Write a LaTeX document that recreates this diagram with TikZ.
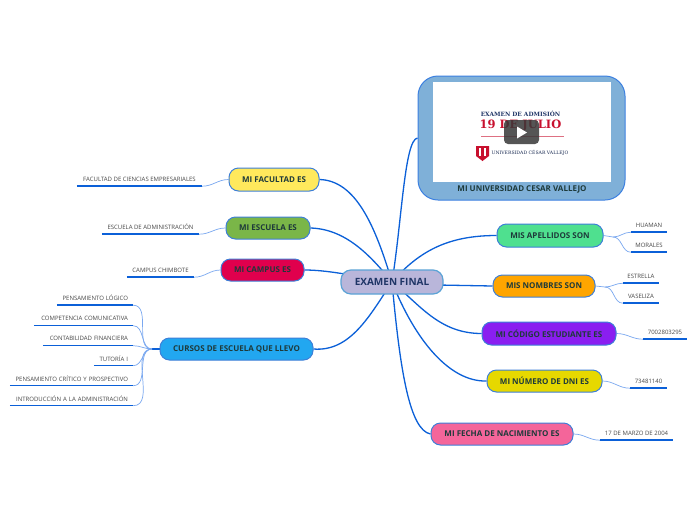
\documentclass[tikz,border=0pt]{standalone}
\usepackage{fontspec}
\setmainfont{Open Sans}
\newfontfamily\serifthumb{DejaVu Serif}
\usetikzlibrary{backgrounds}
\definecolor{mainline}{HTML}{0B60D8}
\definecolor{thinline}{HTML}{7AA8F0}
\definecolor{edgeblue}{HTML}{3D7FD8}
\definecolor{unifill}{HTML}{7FB0D8}
\definecolor{rootfill}{HTML}{B9B6DA}
\definecolor{rootedge}{HTML}{5BA3D6}
\definecolor{cgreen}{HTML}{4FE08F}
\definecolor{corange}{HTML}{FFA500}
\definecolor{cpurple}{HTML}{8A1EF0}
\definecolor{colive}{HTML}{E6D800}
\definecolor{cpink}{HTML}{F4659A}
\definecolor{cyellow}{HTML}{FFE95C}
\definecolor{cleaf}{HTML}{7AB648}
\definecolor{cred}{HTML}{E0004D}
\definecolor{csky}{HTML}{22A7F0}
\definecolor{labeldark}{HTML}{1E3A3A}
\definecolor{navy}{HTML}{1F3566}
\definecolor{brick}{HTML}{C8102E}
\tikzset{
  x=1pt,y=-1pt,
  topic/.style={draw=edgeblue,line width=1pt,rounded corners=9.5pt,inner sep=0pt,
    font=\bfseries\fontsize{8}{9}\selectfont,text=labeldark},
  leaf/.style={inner sep=0pt,minimum height=14pt,font=\fontsize{6}{7}\selectfont,text=black!72},
  branch/.style={draw=mainline,line width=1.3pt},
  twig/.style={draw=thinline,line width=0.7pt},
  under/.style={draw=mainline,line width=1.5pt},
}
\newcommand{\topicnode}[7]{\node[topic,fill=#2,minimum width=#5pt,minimum height=#6pt] (#1) at (#3,#4) {#7};}
\newcommand{\leafnode}[5]{\node[leaf,minimum width=#4pt] (#1) at (#2,#3) {#5}; \draw[under] (#1.south west) -- (#1.south east);}
\begin{document}
\begin{tikzpicture}
\useasboundingbox (0,0) rectangle (696,520);
% video box
\node[draw=mainline!80!white,fill=unifill,line width=1pt,rounded corners=20pt,minimum width=207pt,minimum height=124pt,inner sep=0pt] (uni) at (521.5,138) {};
\node[fill=white,minimum width=178pt,minimum height=100pt,inner sep=0pt] (thumb) at (522,132) {};
\node[inner sep=0pt,font=\serifthumb\bfseries\fontsize{5.85}{7}\selectfont,text=navy] (t1) at (520.5,113.5) {EXAMEN DE ADMISIÓN};
\node[inner sep=0pt,font=\serifthumb\bfseries\fontsize{11.5}{12}\selectfont,text=brick] (t2) at (520.5,125) {19 DE JULIO};
\coordinate (ra) at (481,136.3);
\coordinate (rb) at (564,136.3);
\draw[brick!60,line width=0.5pt] (ra) -- (rb);
\fill[brick] (476,146) -- (489,146) -- (489,156) -- (482.5,161) -- (476,156) -- cycle;
\fill[white] (479,148) rectangle (481,156);
\fill[white] (484,148) rectangle (486,156);
\node[inner sep=0pt,font=\serifthumb\fontsize{4.6}{5}\selectfont,text=navy!80!black] (t3) at (530,153) {UNIVERSIDAD CÉSAR VALLEJO};
\node[fill=black!78,fill opacity=0.85,rounded corners=4pt,minimum width=35pt,minimum height=24pt,inner sep=0pt] (play) at (521.5,132) {};
\fill[white] (517,126.5) -- (527,132.5) -- (517,138.5) -- cycle;
\node[inner sep=0pt,font=\bfseries\fontsize{8}{9}\selectfont,text=labeldark] (unilabel) at (522,189) {MI UNIVERSIDAD CESAR VALLEJO};
% root
\node[draw=rootedge,fill=rootfill,line width=1.2pt,rounded corners=10pt,minimum width=102pt,minimum height=24pt,inner sep=0pt,font=\bfseries\fontsize{10}{11}\selectfont,text=navy] (root) at (392,282) {EXAMEN FINAL};
% topics
\topicnode{facultad}{cyellow}{274}{179.5}{90}{23}{MI FACULTAD ES}
\topicnode{escuela}{cleaf}{268}{228}{84}{22}{MI ESCUELA ES}
\topicnode{campus}{cred}{262.5}{270}{83}{22}{MI CAMPUS ES}
\topicnode{cursos}{csky}{236.5}{349}{153}{22}{CURSOS DE ESCUELA QUE LLEVO}
\topicnode{apellidos}{cgreen}{550}{235.5}{106}{23}{MIS APELLIDOS SON}
\topicnode{nombres}{corange}{544}{286}{102}{22}{MIS NOMBRES SON}
\topicnode{codigo}{cpurple}{549}{333.5}{134}{23}{MI CÓDIGO ESTUDIANTE ES}
\topicnode{numero}{colive}{544.5}{381}{115}{22}{MI NÚMERO DE DNI ES}
\topicnode{fecha}{cpink}{502}{434}{142}{22}{MI FECHA DE NACIMIENTO ES}
% leaves
\leafnode{lfac}{139.5}{179}{125}{FACULTAD DE CIENCIAS EMPRESARIALES}
\leafnode{lesc}{150.5}{227}{97}{ESCUELA DE ADMINISTRACIÓN}
\leafnode{lcam}{160.5}{270}{67}{CAMPUS CHIMBOTE}
\node[leaf,minimum width=76pt,text width=66pt,align=right] (c1) at (95,298) {PENSAMIENTO LÓGICO};
\node[leaf,minimum width=99pt,text width=89pt,align=right] (c2) at (83.5,318.5) {COMPETENCIA COMUNICATIVA};
\node[leaf,minimum width=90pt,text width=80pt,align=right] (c3) at (88,338.5) {CONTABILIDAD FINANCIERA};
\node[leaf,minimum width=39pt,text width=29pt,align=right] (c4) at (113.5,358.5) {TUTORÍA I};
\node[leaf,minimum width=123pt,text width=113pt,align=right] (c5) at (71.5,378.5) {PENSAMIENTO CRÍTICO Y PROSPECTIVO};
\node[leaf,minimum width=123pt,text width=113pt,align=right] (c6) at (71.5,398.5) {INTRODUCCIÓN A LA ADMINISTRACIÓN};
\foreach \n in {c1,c2,c3,c4,c5,c6}{\draw[under] (\n.south west) -- (\n.south east);}
\leafnode{lhua}{649}{225}{36}{HUAMAN}
\leafnode{lmor}{649}{245}{36}{MORALES}
\leafnode{lest}{641}{276}{36}{ESTRELLA}
\leafnode{lvas}{641}{296}{36}{VASELIZA}
\leafnode{lcod}{665}{332}{44}{7002803295}
\leafnode{lnum}{648.5}{381}{37}{73481140}
\leafnode{lfec}{636.5}{433}{73}{17 DE MARZO DE 2004}
% connectors behind everything
\begin{pgfonlayer}{background}
\fill[white] (0,0) rectangle (696,520);
\coordinate (hub) at (392,282);
\coordinate (rootE) at (438,285);
\draw[branch] (facultad.east) .. controls +(36,1) and (375,225) .. (hub);
\draw[branch] (escuela.east) .. controls +(35,1) and (370,255) .. (hub);
\draw[branch] (campus.east) .. controls +(22,0) and (350,275) .. (hub);
\draw[branch] (cursos.east) .. controls +(37,3) and (370,315) .. (hub);
\draw[branch] (uni.west) .. controls +(-13,2) and (402,220) .. (hub);
\draw[branch] (apellidos.west) .. controls +(-47,0) and (420,250) .. (hub);
\draw[branch] (nombres.west) -- (rootE);
\draw[branch] (codigo.west) .. controls +(-42,0) and (420,305) .. (hub);
\draw[branch] (numero.west) .. controls +(-37,1) and (415,340) .. (hub);
\draw[branch] (fecha.west) .. controls +(-21,-4) and (400,370) .. (hub);
\draw[twig] (facultad.west) to[out=180,in=0] (lfac.south east);
\draw[twig] (escuela.west) to[out=180,in=0] (lesc.south east);
\draw[twig] (campus.west) to[out=180,in=0] (lcam.south east);
\coordinate (cstub) at (152,349);
\draw[branch] (cursos.west) -- (cstub);
\foreach \n in {c1,c2,c3,c4,c5,c6}{\draw[twig] (cstub) to[out=180,in=0] (\n.south east);}
\coordinate (astub) at (613,237);
\coordinate (nstub) at (605,287);
\draw[twig] (apellidos.east) -- (astub);
\draw[twig] (astub) to[out=0,in=180] (lhua.south west);
\draw[twig] (astub) to[out=0,in=180] (lmor.south west);
\draw[twig] (nombres.east) -- (nstub);
\draw[twig] (nstub) to[out=0,in=180] (lest.south west);
\draw[twig] (nstub) to[out=0,in=180] (lvas.south west);
\draw[twig] (codigo.east) to[out=0,in=180] (lcod.south west);
\draw[twig] (numero.east) to[out=0,in=180] (lnum.south west);
\draw[twig] (fecha.east) to[out=0,in=180] (lfec.south west);
\end{pgfonlayer}
\end{tikzpicture}
\end{document}
